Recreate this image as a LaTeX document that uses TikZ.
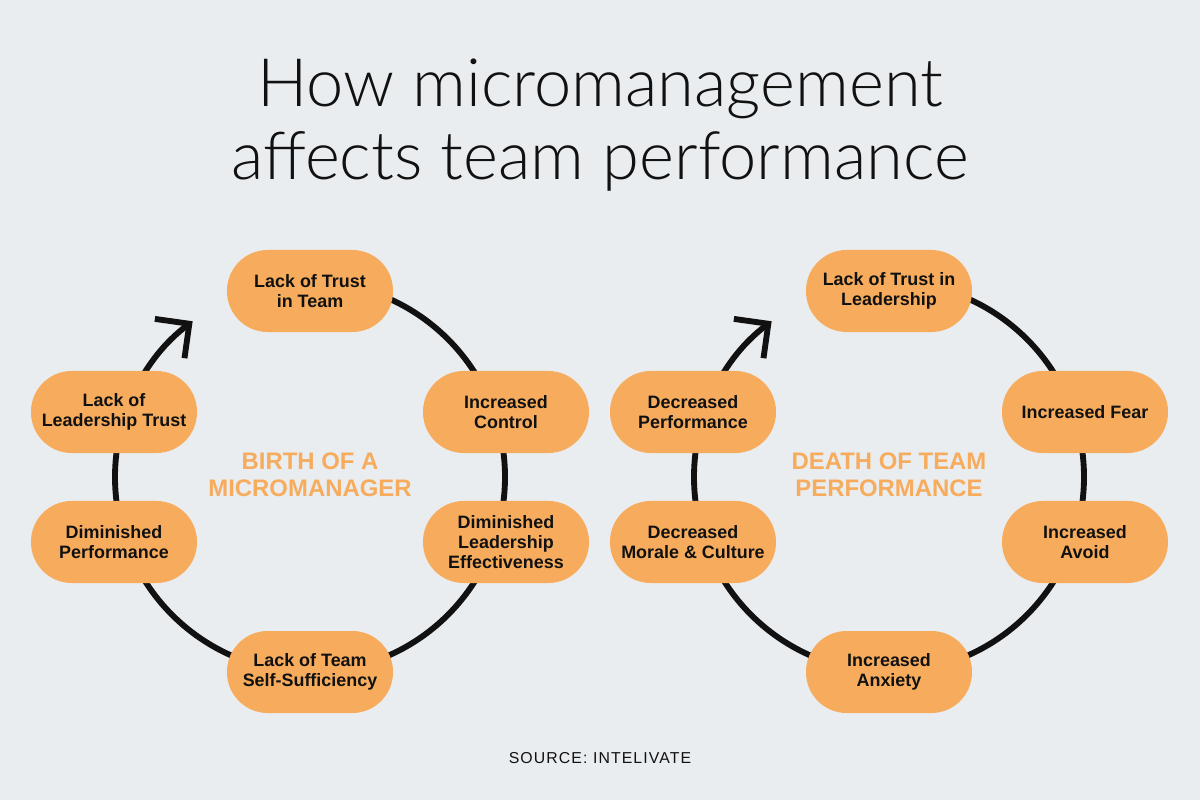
\documentclass[tikz,border=0pt]{standalone}
\usepackage{fontspec}
\setmainfont{Liberation Sans}
\IfFontExistsTF{Lato Light}{\newfontfamily\titlefont{Lato Light}}{\IfFontExistsTF{Fira Sans Light}{\newfontfamily\titlefont{Fira Sans Light}}{\newfontfamily\titlefont{Liberation Sans}}}
\newfontfamily\srcfont[LetterSpace=7]{Liberation Sans}
\usetikzlibrary{arrows.meta}
\definecolor{bg}{HTML}{E9EDF0}
\definecolor{orng}{HTML}{F7AC5D}
\definecolor{ink}{HTML}{111111}
\begin{document}
\begin{tikzpicture}[x=0.03cm,y=0.03cm,
  pill/.style={fill=orng, rounded corners=1.22cm, minimum width=4.98cm, minimum height=2.46cm,
    inner sep=0pt, align=center, text=ink, font=\fontsize{15.3}{17}\selectfont\bfseries},
  ring/.style={line width=5pt, draw=ink},
  tipstyle/.style={-{Straight Barb[length=21pt,width=42pt]}},
  centerlbl/.style={anchor=base, text=orng, font=\fontsize{20.4}{22}\selectfont\bfseries},
  titlelbl/.style={anchor=base, text=ink, font=\titlefont\fontsize{57}{62}\selectfont},
  srclbl/.style={anchor=base, text=ink, font=\srcfont\fontsize{13.5}{15}\selectfont}
]
\fill[bg] (0,0) rectangle (1200,800);
\useasboundingbox (0,0) rectangle (1200,800);

% title
\node[titlelbl] (t1) at (600,693) {How micromanagement};
\node[titlelbl] (t2) at (600,620) {affects team performance};

% centres
\coordinate (C1) at (310,323);
\coordinate (C2) at (889,323);

% rings with arrows
\draw[ring, tipstyle] (C1) ++(90:5.85cm) arc[start angle=450, end angle=127, radius=5.85cm];
\draw[ring, tipstyle] (C2) ++(90:5.85cm) arc[start angle=450, end angle=127, radius=5.85cm];

% left cycle
\node[pill] (a1) at (310,509) {Lack of Trust\\in Team};
\node[pill] (a2) at (506,388) {Increased\\Control};
\node[pill] (a3) at (506,258) {Diminished\\Leadership\\Effectiveness};
\node[pill] (a4) at (310,128) {Lack of Team\\Self-Sufficiency};
\node[pill] (a5) at (114,258) {Diminished\\Performance};
\node[pill] (a6) at (114,388) {Lack of\\Leadership Trust};
\node[centerlbl] (l1) at (310,330) {BIRTH OF A};
\node[centerlbl] (l2) at (310,303) {MICROMANAGER};

% right cycle
\node[pill] (b1) at (889,509) {Lack of Trust in\\Leadership};
\node[pill] (b2) at (1085,388) {Increased Fear};
\node[pill] (b3) at (1085,258) {Increased\\Avoid};
\node[pill] (b4) at (889,128) {Increased\\Anxiety};
\node[pill] (b5) at (693,258) {Decreased\\Morale \& Culture};
\node[pill] (b6) at (693,388) {Decreased\\Performance};
\node[centerlbl] (r1) at (889,330) {DEATH OF TEAM};
\node[centerlbl] (r2) at (889,303) {PERFORMANCE};

% source
\node[srclbl] (src) at (600,37) {SOURCE: INTELIVATE};
\end{tikzpicture}
\end{document}
